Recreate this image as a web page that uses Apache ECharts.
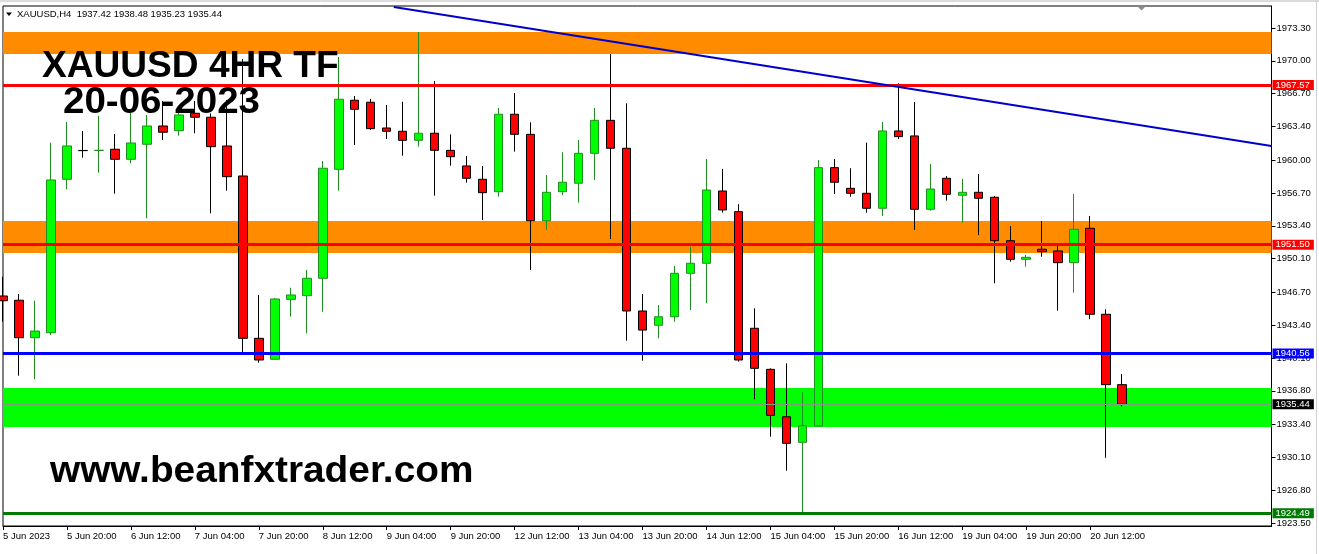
<!DOCTYPE html>
<html>
<head>
<meta charset="utf-8">
<script src="https://cdn.jsdelivr.net/npm/echarts@6/dist/echarts.min.js"></script>
<style>
html,body{margin:0;padding:0;background:#fff;}
#chart{width:1319px;height:554px;}
</style>
</head>
<body>
<div id="chart"></div>
<script>
// ---- data ----
const symbolName = "XAUUSD,H4";
const xTickBars = [0, 4, 8, 12, 16, 20, 24, 28, 32, 36, 40, 44, 48, 52, 56, 60, 64, 68];
const xTickLabels = ["5 Jun 2023", "5 Jun 20:00", "6 Jun 12:00", "7 Jun 04:00", "7 Jun 20:00", "8 Jun 12:00",
  "9 Jun 04:00", "9 Jun 20:00", "12 Jun 12:00", "13 Jun 04:00", "13 Jun 20:00", "14 Jun 12:00",
  "15 Jun 04:00", "15 Jun 20:00", "16 Jun 12:00", "19 Jun 04:00", "19 Jun 20:00", "20 Jun 12:00"];
const yTicks = [1923.50, 1926.80, 1930.10, 1933.40, 1936.80, 1940.10, 1943.40, 1946.70, 1950.10,
  1953.40, 1956.70, 1960.00, 1963.40, 1966.70, 1970.00, 1973.30];

const open = [1946.34, 1945.91, 1942.14, 1942.64, 1958.08, 1960.98, 1960.97, 1961.10, 1960.09, 1961.60,
  1963.44, 1962.97, 1964.72, 1964.32, 1961.43, 1958.41, 1942.08, 1939.97, 1946.00, 1946.37,
  1948.12, 1959.08, 1966.03, 1965.83, 1963.24, 1962.91, 1962.00, 1962.71, 1960.99, 1959.42,
  1958.08, 1956.83, 1964.62, 1962.60, 1953.91, 1956.83, 1957.68, 1960.69, 1964.01, 1961.20,
  1944.83, 1943.39, 1944.25, 1948.62, 1949.63, 1956.90, 1954.82, 1943.09, 1938.96, 1934.19,
  1931.62, 1933.26, 1959.25, 1957.17, 1956.67, 1955.16, 1962.94, 1962.44, 1955.06, 1958.18,
  1956.47, 1956.77, 1956.27, 1951.90, 1950.03, 1951.04, 1950.87, 1949.69, 1953.15, 1944.50,
  1937.42];
const high = [1948.28, 1946.54, 1945.87, 1961.76, 1963.84, 1962.94, 1964.45, 1962.64, 1964.85, 1964.55,
  1965.95, 1964.75, 1965.95, 1964.70, 1966.06, 1970.18, 1946.44, 1946.14, 1947.17, 1948.95,
  1959.92, 1970.38, 1966.46, 1966.16, 1965.55, 1965.88, 1972.90, 1967.97, 1962.60, 1960.42,
  1959.42, 1965.25, 1966.76, 1963.81, 1958.51, 1960.79, 1962.03, 1965.25, 1970.68, 1965.72,
  1946.54, 1945.43, 1949.36, 1951.30, 1960.12, 1959.12, 1955.57, 1945.10, 1939.06, 1939.57,
  1936.65, 1960.02, 1960.12, 1959.19, 1961.76, 1963.84, 1967.73, 1965.86, 1959.62, 1958.41,
  1958.11, 1958.61, 1956.40, 1953.38, 1950.46, 1953.88, 1951.64, 1956.60, 1954.39, 1945.00,
  1938.48];
const low = [1943.75, 1938.32, 1937.96, 1942.41, 1957.07, 1960.25, 1958.74, 1956.63, 1959.69, 1954.16,
  1962.03, 1962.46, 1962.71, 1954.66, 1956.93, 1940.57, 1939.63, 1939.97, 1944.26, 1942.58,
  1944.76, 1956.93, 1961.53, 1963.04, 1962.13, 1960.45, 1961.36, 1956.43, 1959.45, 1957.74,
  1953.98, 1956.33, 1960.86, 1948.95, 1952.98, 1956.50, 1955.73, 1958.01, 1952.07, 1941.84,
  1939.83, 1942.08, 1943.75, 1944.93, 1945.60, 1954.72, 1939.73, 1935.94, 1932.18, 1928.76,
  1924.49, 1933.19, 1956.60, 1956.33, 1954.72, 1954.39, 1962.13, 1952.98, 1954.92, 1955.93,
  1953.71, 1952.47, 1947.62, 1949.79, 1949.29, 1950.29, 1944.86, 1946.67, 1944.00, 1930.06,
  1935.23];
const close = [1945.86, 1942.14, 1942.81, 1958.01, 1961.43, 1960.96, 1961.00, 1960.09, 1961.73, 1963.44,
  1962.81, 1964.55, 1964.32, 1961.36, 1958.34, 1942.08, 1939.90, 1946.04, 1946.44, 1948.12,
  1959.19, 1966.13, 1965.12, 1963.17, 1962.91, 1962.00, 1962.71, 1960.99, 1960.35, 1958.18,
  1956.73, 1964.62, 1962.60, 1953.91, 1956.77, 1957.78, 1960.69, 1964.01, 1961.20, 1944.83,
  1942.91, 1944.25, 1948.62, 1949.63, 1957.00, 1954.99, 1939.90, 1939.06, 1934.33, 1931.52,
  1933.29, 1959.25, 1957.78, 1956.67, 1955.16, 1962.94, 1962.37, 1955.06, 1957.10, 1956.57,
  1956.77, 1956.17, 1951.90, 1950.03, 1950.23, 1950.80, 1949.69, 1953.05, 1944.50, 1937.42,
  1935.44];

// drawn objects on the chart (price levels / zones / trend line)
const orangeZones = [[1970.68, 1972.90], [1950.66, 1953.88]];
const greenZone = [1933.16, 1937.08];
const redLevels = [1967.57, 1951.50];
const blueLevel = 1940.56;
const greenLevel = 1924.49;
const bidLevel = 1935.44;
const trendLine = [[24.44, 1975.41], [79.34, 1961.43]];
const visibleBars = 79.34;
const yRange = [1923.2, 1975.51];

// ---- build ----
const candles = open.map((o, i) => [i, o, close[i], low[i], high[i]]);
const last = open.length - 1;
const headerText = symbolName + "  " + [open[last], high[last], low[last], close[last]].map(v => v.toFixed(2)).join(" ");

const FONT = '"Liberation Sans", Arial, sans-serif';

function levelLine(value, color, width, bg, textColor) {
  return {
    yAxis: value,
    lineStyle: { color: color, width: width, type: 'solid' },
    label: {
      show: true, position: 'end', distance: 1,
      formatter: value.toFixed(2),
      color: textColor || '#fff', backgroundColor: bg,
      padding: [1, 4, 0, 3], fontSize: 9.5, lineHeight: 9, fontFamily: FONT
    }
  };
}

const chart = echarts.init(document.getElementById('chart'), null, { renderer: 'canvas' });
chart.setOption({
  animation: false,
  backgroundColor: '#ffffff',
  grid: { left: 2, top: 6, right: 47.5, bottom: 28, show: true, borderColor: '#000', borderWidth: 1, backgroundColor: '#fff' },
  xAxis: {
    type: 'value', min: 0, max: visibleBars,
    axisLine: { show: true, onZero: false, lineStyle: { color: '#000', width: 1 } },
    axisTick: { show: true, customValues: xTickBars, length: 4, lineStyle: { color: '#000' } },
    axisLabel: {
      customValues: xTickBars, align: 'left', margin: 5, fontSize: 9.5, color: '#000', fontFamily: FONT,
      formatter: v => { const k = xTickBars.indexOf(Math.round(v)); return k >= 0 ? xTickLabels[k] : ''; }
    },
    splitLine: { show: false }
  },
  yAxis: {
    type: 'value', position: 'right', min: yRange[0], max: yRange[1], scale: true,
    axisLine: { show: true, onZero: false, lineStyle: { color: '#000', width: 1 } },
    axisTick: { show: true, customValues: yTicks, length: 4, lineStyle: { color: '#000' } },
    axisLabel: {
      customValues: yTicks, margin: 5, fontSize: 9.5, color: '#000', fontFamily: FONT,
      formatter: v => v.toFixed(2)
    },
    splitLine: { show: false }
  },
  series: [
    {
      type: 'line', data: [], z: 1, silent: true,
      markArea: {
        silent: true,
        data: [
          [{ yAxis: orangeZones[0][0], itemStyle: { color: '#ff8c00' } }, { yAxis: orangeZones[0][1] }],
          [{ yAxis: orangeZones[1][0], itemStyle: { color: '#ff8c00' } }, { yAxis: orangeZones[1][1] }],
          [{ yAxis: greenZone[0], itemStyle: { color: '#00ff00' } }, { yAxis: greenZone[1] }]
        ]
      }
    },
    {
      type: 'candlestick', z: 3, data: candles, barWidth: 9, clip: true,
      itemStyle: { color: '#00ff00', color0: '#ff0000', borderColor: '#1f8f1f', borderColor0: '#000000', borderWidth: 1 }
    },
    {
      type: 'line', data: [], z: 5, silent: true,
      markLine: {
        silent: true, symbol: ['none', 'none'], animation: false,
        data: [
          levelLine(bidLevel, '#7aa07a', 1, '#000000'),
          levelLine(redLevels[0], '#ff0000', 3, '#ff0000'),
          levelLine(redLevels[1], '#ff0000', 3, '#ff0000'),
          levelLine(blueLevel, '#0000ff', 3, '#0000ff'),
          levelLine(greenLevel, '#007a00', 3, '#007a00'),
          [
            { coord: trendLine[0], lineStyle: { color: '#0000cd', width: 2, type: 'solid' }, label: { show: false } },
            { coord: trendLine[1] }
          ]
        ]
      }
    }
  ],
  graphic: [
    { type: 'line', shape: { x1: 0, y1: 1, x2: 1319, y2: 1 }, style: { stroke: '#b8b8b8', lineWidth: 1 }, silent: true },
    { type: 'line', shape: { x1: 1316.5, y1: 0, x2: 1316.5, y2: 554 }, style: { stroke: '#d0d0d0', lineWidth: 1 }, silent: true },
    { type: 'polygon', shape: { points: [[1137, 6], [1146, 6], [1141.5, 10.5]] }, style: { fill: '#8a8a8a' }, silent: true, z: 100 },
    { type: 'polygon', shape: { points: [[6, 12.5], [12, 12.5], [9, 16]] }, style: { fill: '#000' }, silent: true, z: 100 },
    { type: 'text', x: 17, y: 14.5, z: 100, silent: true,
      style: { text: headerText, font: '9.5px ' + FONT, fill: '#000', verticalAlign: 'middle', align: 'left' } },
    { type: 'text', x: 42, y: 67.5, scaleX: 1.03, z: 100, silent: true,
      style: { text: 'XAUUSD 4HR TF', font: 'bold 36px ' + FONT, fill: '#000', verticalAlign: 'middle', align: 'left',
        shadowBlur: 3, shadowColor: 'rgba(0,0,0,0.45)' } },
    { type: 'text', x: 63, y: 102.7, scaleX: 1.07, z: 100, silent: true,
      style: { text: '20-06-2023', font: 'bold 36px ' + FONT, fill: '#000', verticalAlign: 'middle', align: 'left',
        shadowBlur: 3, shadowColor: 'rgba(0,0,0,0.45)' } },
    { type: 'text', x: 50, y: 472.5, scaleX: 1.078, z: 100, silent: true,
      style: { text: 'www.beanfxtrader.com', font: 'bold 36px ' + FONT, fill: '#000', verticalAlign: 'middle', align: 'left',
        shadowBlur: 3, shadowColor: 'rgba(0,0,0,0.45)' } }
  ]
});
</script>
</body>
</html>
